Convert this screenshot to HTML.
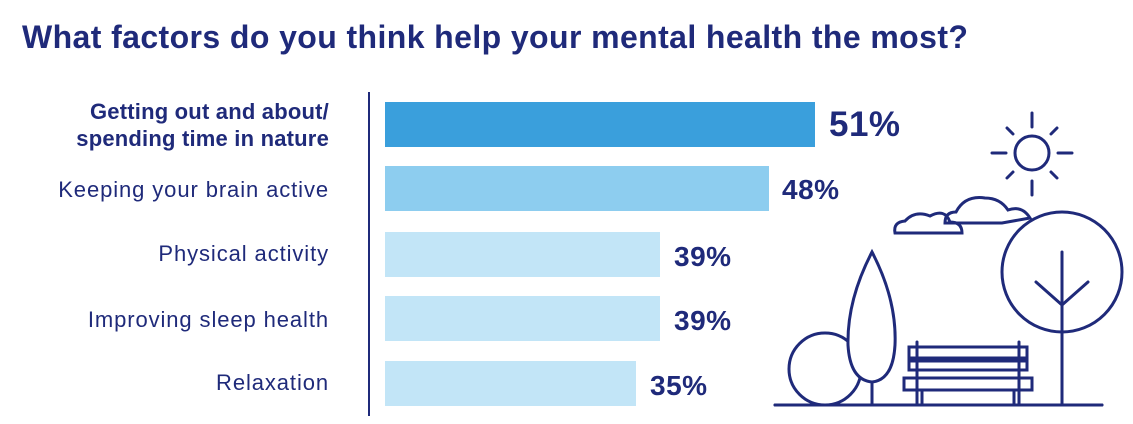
<!DOCTYPE html><html><head><style>
body{margin:0;width:1133px;height:424px;background:#fff;overflow:hidden;font-family:"Liberation Sans",sans-serif;color:#1f2a7a;position:relative}
.t{position:absolute;left:22px;top:19px;font-size:32px;font-weight:bold;letter-spacing:0.4px;white-space:nowrap}
.l{position:absolute;right:804px;text-align:right;font-size:22px;line-height:27px;letter-spacing:0.9px;white-space:nowrap}
.b{position:absolute;left:385px;height:45px}
.v{position:absolute;font-weight:bold;font-size:28px;letter-spacing:0.5px}
</style></head><body>
<div class="t">What factors do you think help your mental health the most?</div>
<div style="position:absolute;left:368px;top:92px;width:2px;height:324px;background:#1f2a7a"></div>
<div class="l" style="top:98px;font-weight:bold;letter-spacing:0.2px">Getting out and about/<br>spending time in nature</div>
<div class="l" style="top:176px">Keeping your brain active</div>
<div class="l" style="top:240px">Physical activity</div>
<div class="l" style="top:306px">Improving sleep health</div>
<div class="l" style="top:369px">Relaxation</div>
<div class="b" style="top:102px;width:430px;background:#3a9fdc"></div>
<div class="b" style="top:166px;width:384px;background:#8dcdef"></div>
<div class="b" style="top:232px;width:275px;background:#c2e5f7"></div>
<div class="b" style="top:296px;width:275px;background:#c2e5f7"></div>
<div class="b" style="top:361px;width:251px;background:#c2e5f7"></div>
<div class="v" style="left:829px;top:105px;font-size:35px">51%</div>
<div class="v" style="left:782px;top:174px">48%</div>
<div class="v" style="left:674px;top:241px">39%</div>
<div class="v" style="left:674px;top:305px">39%</div>
<div class="v" style="left:650px;top:370px">35%</div>
<svg style="position:absolute;left:0;top:0" width="1133" height="424" fill="none" stroke="#1f2a7a" stroke-width="3" stroke-linecap="round">
<line x1="775" y1="405" x2="1102" y2="405"/>
<circle cx="1032" cy="153" r="17"/>
<line x1="1032" y1="113" x2="1032" y2="127"/><line x1="1032" y1="181" x2="1032" y2="195"/>
<line x1="992" y1="153" x2="1006" y2="153"/><line x1="1058" y1="153" x2="1072" y2="153"/>
<line x1="1007" y1="128" x2="1013" y2="134"/><line x1="1057" y1="128" x2="1051" y2="134"/>
<line x1="1007" y1="178" x2="1013" y2="172"/><line x1="1057" y1="178" x2="1051" y2="172"/>
<path d="M895 233 Q893 222 905 221 Q915 210 930 216 Q945 208 950 222 Q962 222 962 233 Z"/>
<path d="M945 223 Q945 212 956 212 Q965 195 985 198 Q1000 198 1008 210 Q1022 205 1030 218 L1002 223 Z"/>
<circle cx="1062" cy="272" r="60" fill="#fff"/>
<line x1="1062" y1="252" x2="1062" y2="405"/>
<polyline points="1036,282 1062,305 1088,282"/>
<circle cx="825" cy="369" r="36"/>
<path d="M872 252 Q897 300 895 345 Q893 380 872 382 Q850 380 848 345 Q847 300 872 252 Z" fill="#fff"/>
<line x1="872" y1="382" x2="872" y2="405"/>
<line x1="775" y1="405" x2="1102" y2="405"/>
<rect x="909" y="347" width="118" height="11"/><rect x="909" y="361" width="118" height="9"/>
<rect x="904" y="378" width="128" height="12"/>
<line x1="917" y1="342" x2="917" y2="405"/><line x1="1019" y1="342" x2="1019" y2="405"/>
<line x1="922" y1="390" x2="922" y2="405"/><line x1="1014" y1="390" x2="1014" y2="405"/>
</svg>
</body></html>
